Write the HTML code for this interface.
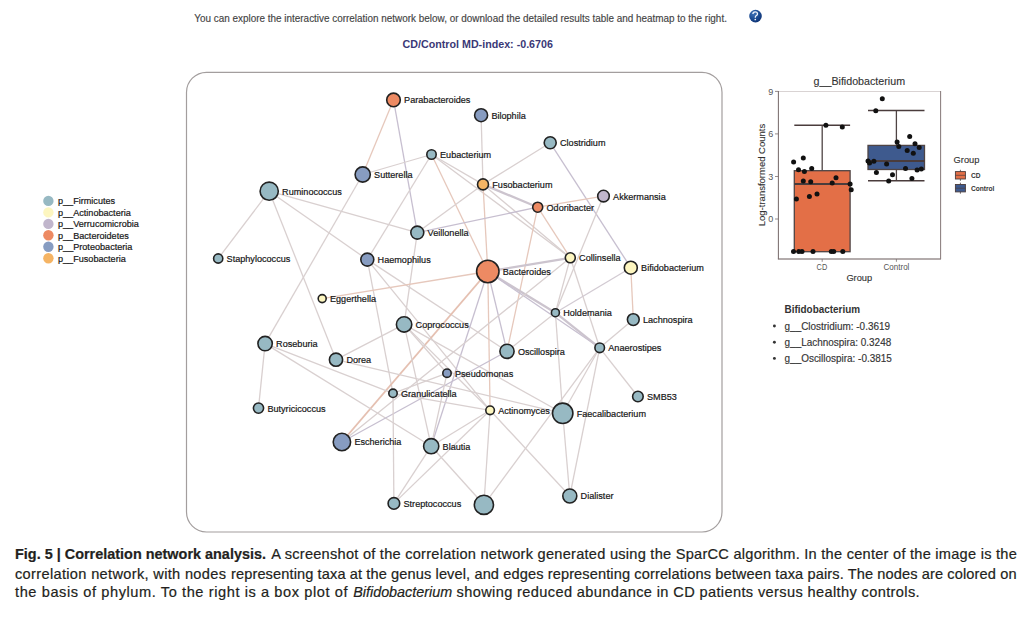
<!DOCTYPE html>
<html><head><meta charset="utf-8"><style>
html,body{margin:0;padding:0;background:#fff;width:1024px;height:617px;overflow:hidden}
svg{position:absolute;left:0;top:0}
text{font-family:"Liberation Sans",sans-serif}
.nl{font-size:9.6px;fill:#161616;stroke:#161616;stroke-width:0.2px}
.tk{font-size:9px;fill:#555}
.bt{font-size:10.7px;fill:#333;stroke:#333;stroke-width:0.12px}
.yl{font-size:9.5px;fill:#333;stroke:#333;stroke-width:0.12px}
.xt{font-size:8.6px;fill:#555}
.xl{font-size:9.3px;fill:#333;stroke:#333;stroke-width:0.12px}
.lk{font-size:6.6px;fill:#333;font-weight:bold}
.top{font-size:10.1px;fill:#444;stroke:#444;stroke-width:0.15px}
.ttl{font-size:10.6px;fill:#3a3876;font-weight:bold}
.bh{font-size:10.4px;fill:#333;font-weight:bold}
.bl{font-size:10.3px;fill:#333;stroke:#333;stroke-width:0.15px}
.cap{font-size:14.6px;fill:#231f20;stroke:#231f20;stroke-width:0.2px}
</style></head><body>
<svg width="1024" height="617" viewBox="0 0 1024 617">
<text x="194.3" y="21.6" class="top" textLength="532.6" lengthAdjust="spacingAndGlyphs">You can explore the interactive correlation network below, or download the detailed results table and heatmap to the right.</text>
<defs><radialGradient id="hg" cx="0.35" cy="0.3" r="0.75"><stop offset="0" stop-color="#3f73b8"/><stop offset="0.6" stop-color="#1b4a90"/><stop offset="1" stop-color="#0f3274"/></radialGradient></defs>
<circle cx="755.5" cy="16.1" r="6.3" fill="url(#hg)"/>
<path d="M752.9 14.1 C752.9 12.6 754 11.9 755.2 11.9 C756.5 11.9 757.5 12.7 757.5 13.9 C757.5 15.2 756.2 15.5 755.6 16.3 C755.3 16.7 755.3 17.1 755.3 17.8" fill="none" stroke="#eef2fa" stroke-width="1.3"/>
<circle cx="755.3" cy="19.5" r="0.85" fill="#eef2fa"/>
<text x="402.6" y="47.7" class="ttl" textLength="150.3" lengthAdjust="spacingAndGlyphs">CD/Control MD-index: -0.6706</text>
<rect x="186.5" y="72.3" width="535.5" height="459.7" rx="20" ry="20" fill="#fff" stroke="#a39e9e" stroke-width="1.2"/><line x1="393.5" y1="99.9" x2="362.7" y2="174.5" stroke="#e6c8bc" stroke-width="1.3"/><line x1="393.5" y1="99.9" x2="417.3" y2="232.6" stroke="#c7bfd0" stroke-width="1.3"/><line x1="481.1" y1="115.2" x2="483.0" y2="184.4" stroke="#d9d0d0" stroke-width="1.3"/><line x1="550.2" y1="142.8" x2="483.0" y2="184.4" stroke="#d9d0d0" stroke-width="1.3"/><line x1="550.2" y1="142.8" x2="630.8" y2="267.7" stroke="#c7bfd0" stroke-width="1.3"/><line x1="431.5" y1="154.5" x2="362.7" y2="174.5" stroke="#d9d0d0" stroke-width="1.3"/><line x1="431.5" y1="154.5" x2="367.3" y2="259.6" stroke="#d9d0d0" stroke-width="1.3"/><line x1="431.5" y1="154.5" x2="487.8" y2="271.5" stroke="#e6c8bc" stroke-width="1.3"/><line x1="431.5" y1="154.5" x2="483.0" y2="184.4" stroke="#d9d0d0" stroke-width="1.3"/><line x1="431.5" y1="154.5" x2="570.3" y2="257.8" stroke="#d9d0d0" stroke-width="1.3"/><line x1="483.0" y1="184.4" x2="537.7" y2="207.2" stroke="#ccc4ce" stroke-width="2.3"/><line x1="483.0" y1="184.4" x2="417.3" y2="232.6" stroke="#d9d0d0" stroke-width="1.3"/><line x1="483.0" y1="184.4" x2="487.8" y2="271.5" stroke="#e6c8bc" stroke-width="1.3"/><line x1="483.0" y1="184.4" x2="570.3" y2="257.8" stroke="#d9d0d0" stroke-width="1.3"/><line x1="537.7" y1="207.2" x2="603.5" y2="196.1" stroke="#e6c8bc" stroke-width="1.3"/><line x1="537.7" y1="207.2" x2="417.3" y2="232.6" stroke="#c7bfd0" stroke-width="1.3"/><line x1="537.7" y1="207.2" x2="507.0" y2="351.3" stroke="#e6c8bc" stroke-width="1.3"/><line x1="537.7" y1="207.2" x2="570.3" y2="257.8" stroke="#e6c8bc" stroke-width="1.3"/><line x1="603.5" y1="196.1" x2="555.4" y2="312.7" stroke="#d9d0d0" stroke-width="1.3"/><line x1="269.2" y1="191.2" x2="218.2" y2="258.5" stroke="#d9d0d0" stroke-width="1.3"/><line x1="269.2" y1="191.2" x2="336.0" y2="359.7" stroke="#d9d0d0" stroke-width="1.3"/><line x1="269.2" y1="191.2" x2="367.3" y2="259.6" stroke="#d9d0d0" stroke-width="1.3"/><line x1="269.2" y1="191.2" x2="417.3" y2="232.6" stroke="#d9d0d0" stroke-width="1.3"/><line x1="362.7" y1="174.5" x2="265.1" y2="343.6" stroke="#d9d0d0" stroke-width="1.3"/><line x1="417.3" y1="232.6" x2="404.1" y2="324.4" stroke="#d9d0d0" stroke-width="1.3"/><line x1="367.3" y1="259.6" x2="393.0" y2="393.3" stroke="#d9d0d0" stroke-width="1.3"/><line x1="367.3" y1="259.6" x2="490.1" y2="410.3" stroke="#d9d0d0" stroke-width="1.3"/><line x1="367.3" y1="259.6" x2="507.0" y2="351.3" stroke="#d9d0d0" stroke-width="1.3"/><line x1="322.2" y1="298.6" x2="487.8" y2="271.5" stroke="#e6c8bc" stroke-width="1.3"/><line x1="487.8" y1="271.5" x2="570.3" y2="257.8" stroke="#ccc4ce" stroke-width="2.3"/><line x1="487.8" y1="271.5" x2="555.4" y2="312.7" stroke="#ccc4ce" stroke-width="2.3"/><line x1="487.8" y1="271.5" x2="599.7" y2="347.8" stroke="#c7bfd0" stroke-width="1.3"/><line x1="487.8" y1="271.5" x2="341.9" y2="442.0" stroke="#e5c0b1" stroke-width="1.9"/><line x1="487.8" y1="271.5" x2="431.2" y2="446.2" stroke="#c7bfd0" stroke-width="1.3"/><line x1="487.8" y1="271.5" x2="490.1" y2="410.3" stroke="#e6c8bc" stroke-width="1.3"/><line x1="487.8" y1="271.5" x2="507.0" y2="351.3" stroke="#c7bfd0" stroke-width="1.3"/><line x1="570.3" y1="257.8" x2="555.4" y2="312.7" stroke="#d9d0d0" stroke-width="1.3"/><line x1="570.3" y1="257.8" x2="599.7" y2="347.8" stroke="#d9d0d0" stroke-width="1.3"/><line x1="570.3" y1="257.8" x2="341.9" y2="442.0" stroke="#d9d0d0" stroke-width="1.3"/><line x1="630.8" y1="267.7" x2="555.4" y2="312.7" stroke="#d2cad2" stroke-width="1.3"/><line x1="630.8" y1="267.7" x2="633.3" y2="319.6" stroke="#e6c8bc" stroke-width="1.3"/><line x1="633.3" y1="319.6" x2="599.7" y2="347.8" stroke="#d9d0d0" stroke-width="1.3"/><line x1="555.4" y1="312.7" x2="507.0" y2="351.3" stroke="#d9d0d0" stroke-width="1.3"/><line x1="555.4" y1="312.7" x2="562.7" y2="413.3" stroke="#d9d0d0" stroke-width="1.3"/><line x1="555.4" y1="312.7" x2="599.7" y2="347.8" stroke="#ccc4ce" stroke-width="2.3"/><line x1="265.1" y1="343.6" x2="258.5" y2="408.1" stroke="#d9d0d0" stroke-width="1.3"/><line x1="265.1" y1="343.6" x2="431.2" y2="446.2" stroke="#d9d0d0" stroke-width="1.3"/><line x1="265.1" y1="343.6" x2="393.0" y2="393.3" stroke="#d9d0d0" stroke-width="1.3"/><line x1="336.0" y1="359.7" x2="404.1" y2="324.4" stroke="#d9d0d0" stroke-width="1.3"/><line x1="336.0" y1="359.7" x2="562.7" y2="413.3" stroke="#d9d0d0" stroke-width="1.3"/><line x1="404.1" y1="324.4" x2="431.2" y2="446.2" stroke="#d9d0d0" stroke-width="1.3"/><line x1="404.1" y1="324.4" x2="447.0" y2="373.2" stroke="#d9d0d0" stroke-width="1.3"/><line x1="404.1" y1="324.4" x2="490.1" y2="410.3" stroke="#d9d0d0" stroke-width="1.3"/><line x1="404.1" y1="324.4" x2="562.7" y2="413.3" stroke="#d9d0d0" stroke-width="1.3"/><line x1="507.0" y1="351.3" x2="341.9" y2="442.0" stroke="#c7bfd0" stroke-width="1.3"/><line x1="393.0" y1="393.3" x2="393.9" y2="503.4" stroke="#d9d0d0" stroke-width="1.3"/><line x1="393.0" y1="393.3" x2="490.1" y2="410.3" stroke="#d9d0d0" stroke-width="1.3"/><line x1="393.0" y1="393.3" x2="447.0" y2="373.2" stroke="#d9d0d0" stroke-width="1.3"/><line x1="447.0" y1="373.2" x2="431.2" y2="446.2" stroke="#d9d0d0" stroke-width="1.3"/><line x1="431.2" y1="446.2" x2="490.1" y2="410.3" stroke="#d9d0d0" stroke-width="1.3"/><line x1="431.2" y1="446.2" x2="393.9" y2="503.4" stroke="#d9d0d0" stroke-width="1.3"/><line x1="431.2" y1="446.2" x2="483.9" y2="504.8" stroke="#d9d0d0" stroke-width="1.3"/><line x1="393.9" y1="503.4" x2="490.1" y2="410.3" stroke="#d9d0d0" stroke-width="1.3"/><line x1="490.1" y1="410.3" x2="483.9" y2="504.8" stroke="#d9d0d0" stroke-width="1.3"/><line x1="490.1" y1="410.3" x2="569.8" y2="496.0" stroke="#d9d0d0" stroke-width="1.3"/><line x1="562.7" y1="413.3" x2="569.8" y2="496.0" stroke="#d9d0d0" stroke-width="1.3"/><line x1="599.7" y1="347.8" x2="562.7" y2="413.3" stroke="#d9d0d0" stroke-width="1.3"/><line x1="599.7" y1="347.8" x2="569.8" y2="496.0" stroke="#d9d0d0" stroke-width="1.3"/><line x1="599.7" y1="347.8" x2="637.9" y2="396.5" stroke="#d9d0d0" stroke-width="1.3"/><line x1="599.7" y1="347.8" x2="483.9" y2="504.8" stroke="#d9d0d0" stroke-width="1.3"/><circle cx="393.5" cy="99.9" r="6.80" fill="#ed8a63" stroke="#222" stroke-width="1.6"/><circle cx="481.1" cy="115.2" r="6.50" fill="#879cc1" stroke="#222" stroke-width="1.6"/><circle cx="550.2" cy="142.8" r="6.00" fill="#97b9c3" stroke="#222" stroke-width="1.6"/><circle cx="431.5" cy="154.5" r="4.70" fill="#97b9c3" stroke="#222" stroke-width="1.6"/><circle cx="362.7" cy="174.5" r="7.60" fill="#879cc1" stroke="#222" stroke-width="1.6"/><circle cx="269.2" cy="191.2" r="9.10" fill="#97b9c3" stroke="#222" stroke-width="1.6"/><circle cx="483.0" cy="184.4" r="5.50" fill="#f5b464" stroke="#222" stroke-width="1.6"/><circle cx="603.5" cy="196.1" r="5.80" fill="#c1b6cc" stroke="#222" stroke-width="1.6"/><circle cx="537.7" cy="207.2" r="5.00" fill="#ed8a63" stroke="#222" stroke-width="1.6"/><circle cx="417.3" cy="232.6" r="6.50" fill="#97b9c3" stroke="#222" stroke-width="1.6"/><circle cx="218.2" cy="258.5" r="4.60" fill="#97b9c3" stroke="#222" stroke-width="1.6"/><circle cx="367.3" cy="259.6" r="6.50" fill="#879cc1" stroke="#222" stroke-width="1.6"/><circle cx="570.3" cy="257.8" r="5.00" fill="#fdf6c0" stroke="#222" stroke-width="1.6"/><circle cx="630.8" cy="267.7" r="6.50" fill="#fdf6c0" stroke="#222" stroke-width="1.6"/><circle cx="487.8" cy="271.5" r="11.20" fill="#ed8a63" stroke="#222" stroke-width="1.6"/><circle cx="322.2" cy="298.6" r="4.00" fill="#fdf6c0" stroke="#222" stroke-width="1.6"/><circle cx="555.4" cy="312.7" r="4.00" fill="#97b9c3" stroke="#222" stroke-width="1.6"/><circle cx="633.3" cy="319.6" r="5.90" fill="#97b9c3" stroke="#222" stroke-width="1.6"/><circle cx="404.1" cy="324.4" r="7.70" fill="#97b9c3" stroke="#222" stroke-width="1.6"/><circle cx="265.1" cy="343.6" r="7.20" fill="#97b9c3" stroke="#222" stroke-width="1.6"/><circle cx="507.0" cy="351.3" r="7.10" fill="#97b9c3" stroke="#222" stroke-width="1.6"/><circle cx="599.7" cy="347.8" r="4.80" fill="#97b9c3" stroke="#222" stroke-width="1.6"/><circle cx="336.0" cy="359.7" r="6.60" fill="#97b9c3" stroke="#222" stroke-width="1.6"/><circle cx="447.0" cy="373.2" r="4.20" fill="#879cc1" stroke="#222" stroke-width="1.6"/><circle cx="393.0" cy="393.3" r="4.20" fill="#97b9c3" stroke="#222" stroke-width="1.6"/><circle cx="637.9" cy="396.5" r="5.30" fill="#97b9c3" stroke="#222" stroke-width="1.6"/><circle cx="258.5" cy="408.1" r="5.10" fill="#97b9c3" stroke="#222" stroke-width="1.6"/><circle cx="490.1" cy="410.3" r="4.30" fill="#fdf6c0" stroke="#222" stroke-width="1.6"/><circle cx="562.7" cy="413.3" r="10.20" fill="#97b9c3" stroke="#222" stroke-width="1.6"/><circle cx="341.9" cy="442.0" r="8.70" fill="#879cc1" stroke="#222" stroke-width="1.6"/><circle cx="431.2" cy="446.2" r="7.60" fill="#97b9c3" stroke="#222" stroke-width="1.6"/><circle cx="569.8" cy="496.0" r="7.00" fill="#97b9c3" stroke="#222" stroke-width="1.6"/><circle cx="393.9" cy="503.4" r="5.80" fill="#97b9c3" stroke="#222" stroke-width="1.6"/><circle cx="483.9" cy="504.8" r="9.60" fill="#97b9c3" stroke="#222" stroke-width="1.6"/><text x="404.1" y="103.3" class="nl" textLength="66.3" lengthAdjust="spacingAndGlyphs">Parabacteroides</text><text x="491.4" y="118.6" class="nl" textLength="34.4" lengthAdjust="spacingAndGlyphs">Bilophila</text><text x="560.0" y="146.2" class="nl" textLength="45.5" lengthAdjust="spacingAndGlyphs">Clostridium</text><text x="440.0" y="157.9" class="nl" textLength="51.1" lengthAdjust="spacingAndGlyphs">Eubacterium</text><text x="374.1" y="177.9" class="nl" textLength="38.4" lengthAdjust="spacingAndGlyphs">Sutterella</text><text x="282.1" y="194.6" class="nl" textLength="59.7" lengthAdjust="spacingAndGlyphs">Ruminococcus</text><text x="492.3" y="187.8" class="nl" textLength="60.2" lengthAdjust="spacingAndGlyphs">Fusobacterium</text><text x="613.1" y="199.5" class="nl" textLength="52.6" lengthAdjust="spacingAndGlyphs">Akkermansia</text><text x="546.5" y="210.6" class="nl" textLength="47.5" lengthAdjust="spacingAndGlyphs">Odoribacter</text><text x="427.6" y="236.0" class="nl" textLength="41.0" lengthAdjust="spacingAndGlyphs">Veillonella</text><text x="226.6" y="261.9" class="nl" textLength="63.7" lengthAdjust="spacingAndGlyphs">Staphylococcus</text><text x="377.6" y="263.0" class="nl" textLength="53.1" lengthAdjust="spacingAndGlyphs">Haemophilus</text><text x="579.1" y="261.2" class="nl" textLength="41.5" lengthAdjust="spacingAndGlyphs">Collinsella</text><text x="641.1" y="271.1" class="nl" textLength="62.7" lengthAdjust="spacingAndGlyphs">Bifidobacterium</text><text x="502.8" y="274.9" class="nl" textLength="48.1" lengthAdjust="spacingAndGlyphs">Bacteroides</text><text x="330.0" y="302.0" class="nl" textLength="46.0" lengthAdjust="spacingAndGlyphs">Eggerthella</text><text x="563.2" y="316.1" class="nl" textLength="48.6" lengthAdjust="spacingAndGlyphs">Holdemania</text><text x="643.0" y="323.0" class="nl" textLength="49.6" lengthAdjust="spacingAndGlyphs">Lachnospira</text><text x="415.6" y="327.8" class="nl" textLength="53.1" lengthAdjust="spacingAndGlyphs">Coprococcus</text><text x="276.1" y="347.0" class="nl" textLength="41.5" lengthAdjust="spacingAndGlyphs">Roseburia</text><text x="517.9" y="354.7" class="nl" textLength="47.0" lengthAdjust="spacingAndGlyphs">Oscillospira</text><text x="608.3" y="351.2" class="nl" textLength="53.1" lengthAdjust="spacingAndGlyphs">Anaerostipes</text><text x="346.4" y="363.1" class="nl" textLength="24.8" lengthAdjust="spacingAndGlyphs">Dorea</text><text x="455.0" y="376.6" class="nl" textLength="58.2" lengthAdjust="spacingAndGlyphs">Pseudomonas</text><text x="401.0" y="396.7" class="nl" textLength="55.6" lengthAdjust="spacingAndGlyphs">Granulicatella</text><text x="647.0" y="399.9" class="nl" textLength="29.8" lengthAdjust="spacingAndGlyphs">SMB53</text><text x="267.4" y="411.5" class="nl" textLength="58.2" lengthAdjust="spacingAndGlyphs">Butyricicoccus</text><text x="498.2" y="413.7" class="nl" textLength="51.6" lengthAdjust="spacingAndGlyphs">Actinomyces</text><text x="576.7" y="416.7" class="nl" textLength="69.3" lengthAdjust="spacingAndGlyphs">Faecalibacterium</text><text x="354.4" y="445.4" class="nl" textLength="47.0" lengthAdjust="spacingAndGlyphs">Escherichia</text><text x="442.6" y="449.6" class="nl" textLength="27.8" lengthAdjust="spacingAndGlyphs">Blautia</text><text x="580.6" y="499.4" class="nl" textLength="32.9" lengthAdjust="spacingAndGlyphs">Dialister</text><text x="403.5" y="506.8" class="nl" textLength="57.7" lengthAdjust="spacingAndGlyphs">Streptococcus</text><circle cx="48.4" cy="200.9" r="5.2" fill="#97b9c3"/><text x="58" y="204.3" class="nl" textLength="57.1" lengthAdjust="spacingAndGlyphs">p__Firmicutes</text><circle cx="48.4" cy="212.4" r="5.2" fill="#fdf6c0"/><text x="58" y="215.8" class="nl" textLength="72.8" lengthAdjust="spacingAndGlyphs">p__Actinobacteria</text><circle cx="48.4" cy="223.9" r="5.2" fill="#c1b6cc"/><text x="58" y="227.3" class="nl" textLength="80.9" lengthAdjust="spacingAndGlyphs">p__Verrucomicrobia</text><circle cx="48.4" cy="235.3" r="5.2" fill="#ed8a63"/><text x="58" y="238.7" class="nl" textLength="70.8" lengthAdjust="spacingAndGlyphs">p__Bacteroidetes</text><circle cx="48.4" cy="246.8" r="5.2" fill="#879cc1"/><text x="58" y="250.2" class="nl" textLength="74.4" lengthAdjust="spacingAndGlyphs">p__Proteobacteria</text><circle cx="48.4" cy="258.3" r="5.2" fill="#f5b464"/><text x="58" y="261.7" class="nl" textLength="67.8" lengthAdjust="spacingAndGlyphs">p__Fusobacteria</text>
<rect x="778.4" y="91.5" width="162.2" height="167.5" fill="#fff" stroke="#d9d3d3" stroke-width="1"/><line x1="778.4" y1="91" x2="778.4" y2="259.2" stroke="#7a6e6e" stroke-width="1"/><line x1="777.9" y1="259.0" x2="941" y2="259.0" stroke="#7a6e6e" stroke-width="1"/><line x1="940.6" y1="91" x2="940.6" y2="259" stroke="#8a7e7e" stroke-width="1"/><line x1="775" y1="219.0" x2="778.4" y2="219.0" stroke="#7a6e6e" stroke-width="0.8"/><text x="773.3" y="222.2" class="tk" text-anchor="end">0</text><line x1="775" y1="176.5" x2="778.4" y2="176.5" stroke="#7a6e6e" stroke-width="0.8"/><text x="773.3" y="179.7" class="tk" text-anchor="end">3</text><line x1="775" y1="133.9" x2="778.4" y2="133.9" stroke="#7a6e6e" stroke-width="0.8"/><text x="773.3" y="137.1" class="tk" text-anchor="end">6</text><line x1="775" y1="91.4" x2="778.4" y2="91.4" stroke="#7a6e6e" stroke-width="0.8"/><text x="773.3" y="94.6" class="tk" text-anchor="end">9</text><line x1="822.2" y1="259" x2="822.2" y2="261.8" stroke="#7a6e6e" stroke-width="0.8"/><line x1="896.4" y1="259" x2="896.4" y2="261.8" stroke="#7a6e6e" stroke-width="0.8"/><line x1="822.2" y1="125.2" x2="822.2" y2="170.7" stroke="#4f4444" stroke-width="1.3"/><line x1="794.3" y1="125.2" x2="850.1" y2="125.2" stroke="#4a3c3c" stroke-width="1.6"/><rect x="794.3" y="170.7" width="55.8" height="81" fill="#e36f47" stroke="#4f4444" stroke-width="1.3"/><line x1="794.3" y1="184.0" x2="850.1" y2="184.0" stroke="#4a3c3c" stroke-width="1.8"/><line x1="896.4" y1="110.5" x2="896.4" y2="180.7" stroke="#4f4444" stroke-width="1.3"/><line x1="868" y1="110.5" x2="924.5" y2="110.5" stroke="#4a3c3c" stroke-width="1.6"/><line x1="868" y1="180.7" x2="924.5" y2="180.7" stroke="#4a3c3c" stroke-width="1.6"/><rect x="868" y="145.4" width="56.5" height="24.1" fill="#3e5a8e" stroke="#4f4444" stroke-width="1.3"/><line x1="868" y1="161" x2="924.5" y2="161" stroke="#4a3c3c" stroke-width="1.8"/><circle cx="825.9" cy="125.2" r="2.5" fill="#111"/><circle cx="842.3" cy="126.9" r="2.5" fill="#111"/><circle cx="793.6" cy="162.1" r="2.5" fill="#111"/><circle cx="803.3" cy="157.9" r="2.5" fill="#111"/><circle cx="798.5" cy="169.7" r="2.5" fill="#111"/><circle cx="804.4" cy="171.6" r="2.5" fill="#111"/><circle cx="811.7" cy="168.6" r="2.5" fill="#111"/><circle cx="803.3" cy="181.1" r="2.5" fill="#111"/><circle cx="810.7" cy="181.7" r="2.5" fill="#111"/><circle cx="836" cy="177.7" r="2.5" fill="#111"/><circle cx="832.2" cy="183" r="2.5" fill="#111"/><circle cx="850.1" cy="184" r="2.5" fill="#111"/><circle cx="851.2" cy="189.7" r="2.5" fill="#111"/><circle cx="817" cy="193.9" r="2.5" fill="#111"/><circle cx="809.4" cy="196.4" r="2.5" fill="#111"/><circle cx="796.4" cy="199" r="2.5" fill="#111"/><circle cx="793.5" cy="251.6" r="2.5" fill="#111"/><circle cx="798.8" cy="251.6" r="2.5" fill="#111"/><circle cx="802" cy="251.6" r="2.5" fill="#111"/><circle cx="813" cy="251.6" r="2.5" fill="#111"/><circle cx="831.3" cy="251.6" r="2.5" fill="#111"/><circle cx="833.7" cy="251.6" r="2.5" fill="#111"/><circle cx="842.8" cy="251.6" r="2.5" fill="#111"/><circle cx="882.3" cy="98.7" r="2.5" fill="#111"/><circle cx="875.8" cy="110.7" r="2.5" fill="#111"/><circle cx="897.1" cy="142.1" r="2.5" fill="#111"/><circle cx="898.8" cy="146.5" r="2.5" fill="#111"/><circle cx="909.7" cy="136.4" r="2.5" fill="#111"/><circle cx="915" cy="143.8" r="2.5" fill="#111"/><circle cx="919.2" cy="147.6" r="2.5" fill="#111"/><circle cx="907.2" cy="150.5" r="2.5" fill="#111"/><circle cx="913.3" cy="153.2" r="2.5" fill="#111"/><circle cx="868" cy="161" r="2.5" fill="#111"/><circle cx="869.5" cy="162.9" r="2.5" fill="#111"/><circle cx="873.9" cy="161.3" r="2.5" fill="#111"/><circle cx="886.6" cy="164" r="2.5" fill="#111"/><circle cx="905.5" cy="168.4" r="2.5" fill="#111"/><circle cx="917.1" cy="170.1" r="2.5" fill="#111"/><circle cx="921.3" cy="169" r="2.5" fill="#111"/><circle cx="876.4" cy="172.6" r="2.5" fill="#111"/><circle cx="892.5" cy="174.7" r="2.5" fill="#111"/><circle cx="888.7" cy="181.1" r="2.5" fill="#111"/><circle cx="911.9" cy="178.5" r="2.5" fill="#111"/><text x="859.3" y="84.6" class="bt" text-anchor="middle">g__Bifidobacterium</text><text x="0" y="0" class="yl" text-anchor="middle" transform="translate(765.3,175) rotate(-90)">Log-transformed Counts</text><text x="816.6" y="269.6" class="xt" textLength="10.6" lengthAdjust="spacingAndGlyphs">CD</text><text x="883.6" y="269.6" class="xt" textLength="25.8" lengthAdjust="spacingAndGlyphs">Control</text><text x="859.3" y="281.2" class="xl" text-anchor="middle">Group</text><text x="953.6" y="163.2" class="xl">Group</text><line x1="960.4" y1="169.79999999999998" x2="960.4" y2="180.79999999999998" stroke="#4a3c3c" stroke-width="0.8"/><rect x="955.4" y="171.6" width="10" height="7.4" fill="#e36f47" stroke="#4a3c3c" stroke-width="0.9"/><line x1="955.4" y1="175.29999999999998" x2="965.4" y2="175.29999999999998" stroke="#4a3c3c" stroke-width="0.7"/><text x="971" y="178.2" class="lk">CD</text><line x1="960.4" y1="182.7" x2="960.4" y2="193.7" stroke="#4a3c3c" stroke-width="0.8"/><rect x="955.4" y="184.5" width="10" height="7.4" fill="#3e5a8e" stroke="#4a3c3c" stroke-width="0.9"/><line x1="955.4" y1="188.2" x2="965.4" y2="188.2" stroke="#4a3c3c" stroke-width="0.7"/><text x="971" y="191.1" class="lk">Control</text>
<text x="784.6" y="313.3" class="bh" textLength="75.4" lengthAdjust="spacingAndGlyphs">Bifidobacterium</text>
<circle cx="774.4" cy="326" r="1.45" fill="#333"/><text x="784.6" y="329.6" class="bl" textLength="105.4" lengthAdjust="spacingAndGlyphs">g__Clostridium: -0.3619</text>
<circle cx="774.4" cy="342.2" r="1.45" fill="#333"/><text x="784.6" y="345.8" class="bl" textLength="106.6" lengthAdjust="spacingAndGlyphs">g__Lachnospira: 0.3248</text>
<circle cx="774.4" cy="358.4" r="1.45" fill="#333"/><text x="784.6" y="362.0" class="bl" textLength="107.2" lengthAdjust="spacingAndGlyphs">g__Oscillospira: -0.3815</text>
</svg>
<svg width="1024" height="617" viewBox="0 0 1024 617" style="position:absolute;left:0;top:0">
<text x="15" y="558.9" class="cap" font-weight="bold" textLength="251" lengthAdjust="spacingAndGlyphs">Fig. 5 | Correlation network analysis.</text>
<text x="271.2" y="558.9" class="cap" textLength="745.6" lengthAdjust="spacing">A screenshot of the correlation network generated using the SparCC algorithm. In the center of the image is the</text>
<text x="15" y="578.6" class="cap" textLength="211" lengthAdjust="spacing">correlation network, with nodes</text>
<text x="231" y="578.6" class="cap" textLength="785.5" lengthAdjust="spacing">representing taxa at the genus level, and edges representing correlations between taxa pairs. The nodes are colored on</text>
<text x="15" y="597" class="cap" textLength="332.5" lengthAdjust="spacing">the basis of phylum. To the right is a box plot of</text>
<text x="353.2" y="597" class="cap" font-style="italic" textLength="99" lengthAdjust="spacingAndGlyphs">Bifidobacterium</text>
<text x="456.6" y="597" class="cap" textLength="463" lengthAdjust="spacing">showing reduced abundance in CD patients versus healthy controls.</text>
</svg>
</body></html>
